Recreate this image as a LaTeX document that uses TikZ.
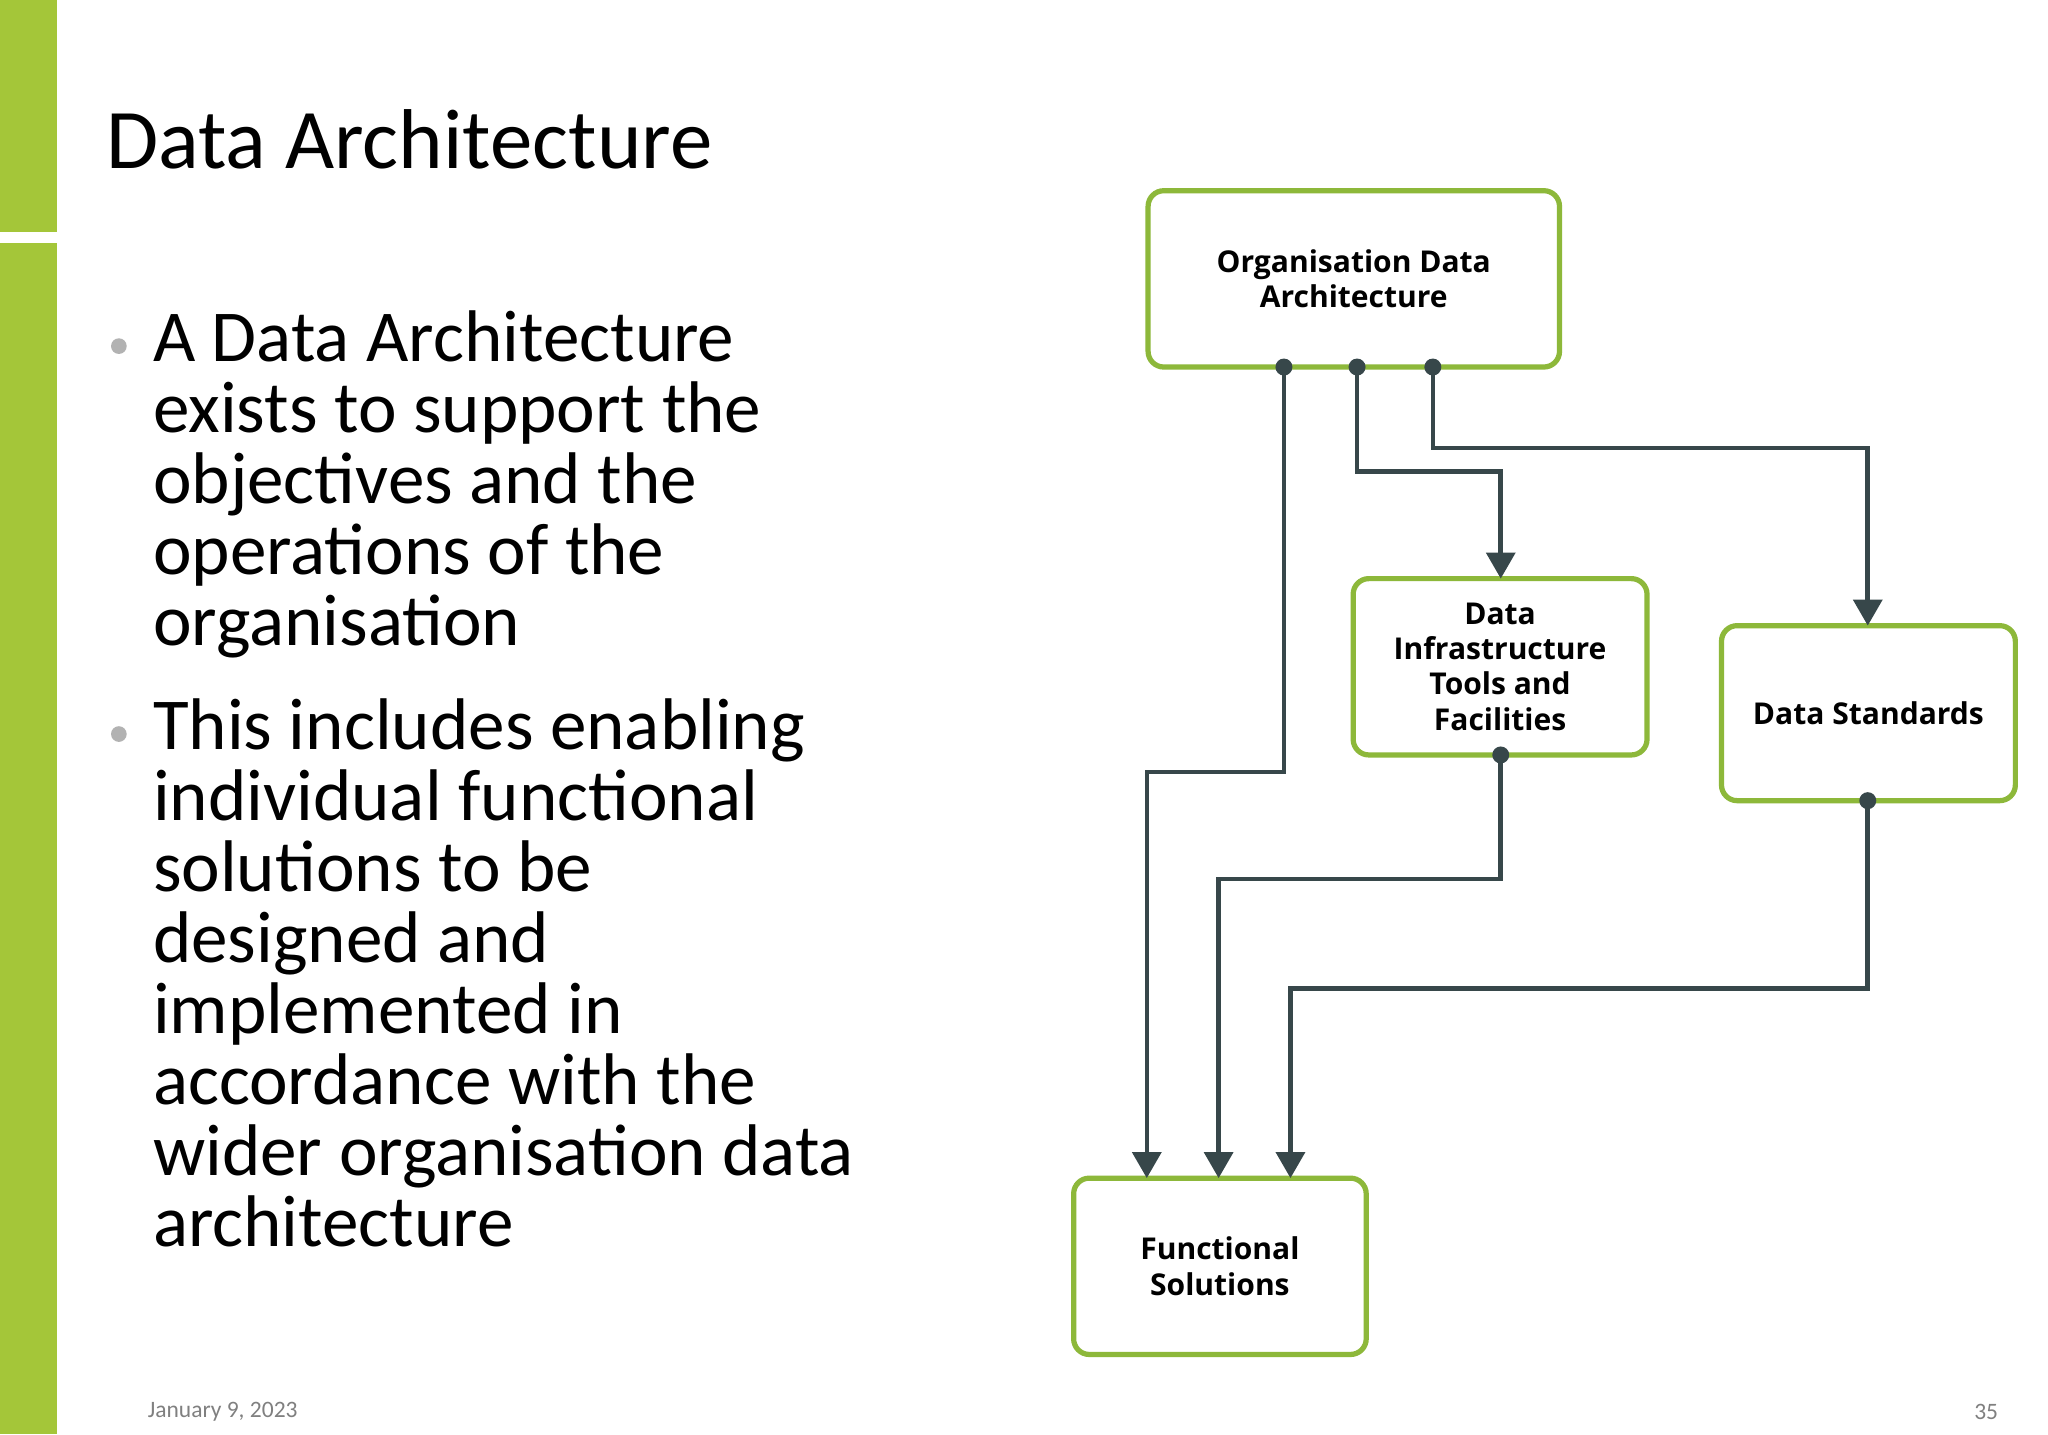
\documentclass[tikz,border=0pt]{standalone}
\usepackage{fontspec}
\setmainfont{Carlito}
\newfontfamily\boxfont{Open Sans}
\usetikzlibrary{arrows.meta}
\definecolor{barg}{HTML}{A4C639}
\definecolor{boxg}{HTML}{8DB83A}
\definecolor{ln}{HTML}{37474A}
\begin{document}
\begin{tikzpicture}[x=1pt,y=-1pt,
  box/.style={draw=boxg,line width=4pt,rounded corners=12pt,fill=white,font=\boxfont\bfseries\fontsize{23}{27}\selectfont,align=center,inner sep=0},
  con/.style={draw=ln,line width=3.5pt,-{Triangle[length=20pt,width=22pt]}},
  dot/.style={circle,fill=ln,inner sep=0,minimum size=13pt},
  body/.style={anchor=north west,align=left,inner sep=0,font=\fontsize{56}{54.3}\selectfont}]
\useasboundingbox (0,0) rectangle (1568,1098);
\fill[white] (0,0) rectangle (1568,1098);
\fill[barg] (0,0) rectangle (44,178);
\fill[barg] (0,186) rectangle (44,1098);
\node[anchor=west,font=\fontsize{65}{70}\selectfont,inner sep=0] (title) at (81,107) {Data Architecture};
\fill[gray!60] (91,265) circle (6pt) (91,562) circle (6pt);
\node[body] (b1) at (117,238) {A Data Architecture\\exists to support the\\objectives and the\\operations of the\\organisation};
\node[body] (b2) at (117,535) {This includes enabling\\individual functional\\solutions to be\\designed and\\implemented in\\accordance with the\\wider organisation data\\architecture};
\node[anchor=west,font=\fontsize{18}{20}\selectfont,text=gray,inner sep=0] (date) at (113,1081) {January 9, 2023};
\node[anchor=east,font=\fontsize{18}{20}\selectfont,text=gray,inner sep=0] (pg) at (1530,1081) {35};
\node[box,minimum width=315pt,minimum height=135pt] (oda) at (1036.5,213.5) {Organisation Data\\Architecture};
\node[box,minimum width=225pt,minimum height=135pt] (ditf) at (1148.5,510.5) {Data\\Infrastructure\\Tools and\\Facilities};
\node[box,minimum width=225pt,minimum height=134pt] (ds) at (1430.5,546) {Data Standards};
\node[box,minimum width=224pt,minimum height=135pt] (fs) at (934,969.5) {Functional\\Solutions};
\coordinate (o1) at (983,281); \coordinate (o2) at (1039,281); \coordinate (o3) at (1097,281);
\coordinate (d1) at (1149,578); \coordinate (s1) at (1430,613);
\draw[con] (o1) -- (983,591) -- (878,591) -- (878,902);
\draw[con] (o2) -- (1039,361) -- (1149,361) -- (1149,443);
\draw[con] (o3) -- (1097,343) -- (1430,343) -- (1430,479);
\draw[con] (d1) -- (1149,673) -- (933,673) -- (933,902);
\draw[con] (s1) -- (1430,757) -- (988,757) -- (988,902);
\foreach \p in {o1,o2,o3,d1,s1} \node[dot] at (\p) {};
\end{tikzpicture}
\end{document}
